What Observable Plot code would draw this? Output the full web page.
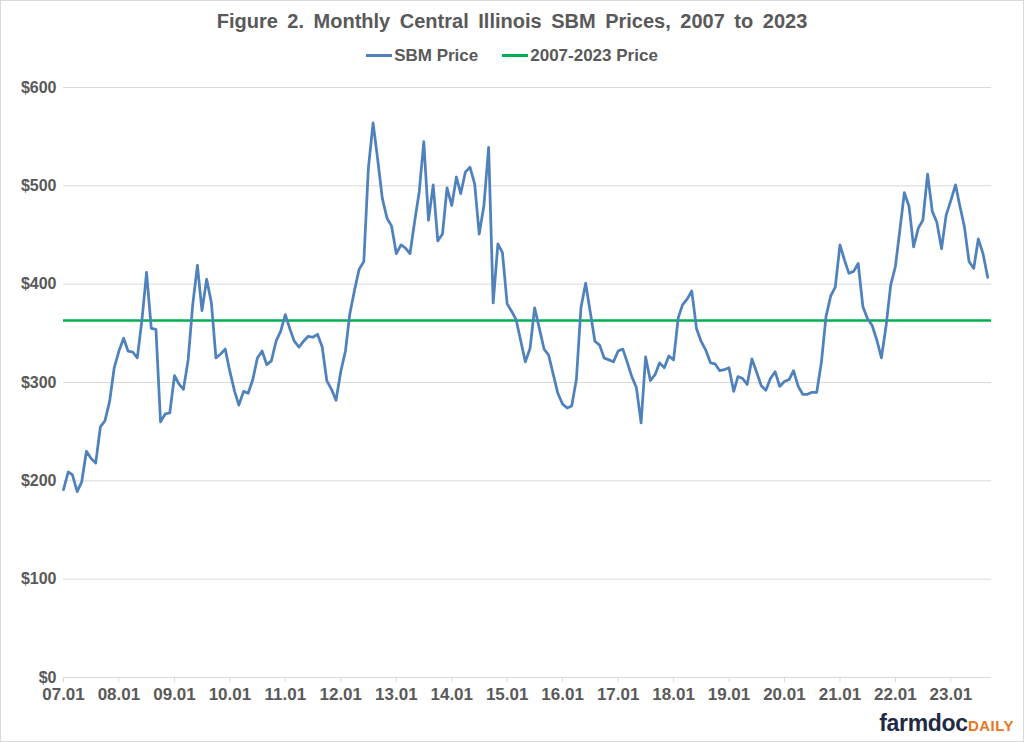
<!DOCTYPE html>
<html>
<head>
<meta charset="utf-8">
<script src="https://cdn.jsdelivr.net/npm/d3@7"></script>
<script src="https://cdn.jsdelivr.net/npm/@observablehq/plot@0.6"></script>
<style>
  html, body { margin: 0; padding: 0; background: #fff; }
  #wrap { position: relative; width: 1024px; height: 742px; box-sizing: border-box; border: 1px solid #d9d9d9; overflow: hidden;
    font-family: "Liberation Sans", Arial, sans-serif; }
  #title { position: absolute; left: 0; width: 1022px; top: 9px; text-align: center; font-size: 20px; font-weight: bold; color: #595959; word-spacing: 4px; }
  #legend { position: absolute; left: 0; width: 1022px; top: 45px; text-align: center; font-size: 17px; font-weight: bold; color: #595959; }
  #legend span.item { display: inline-block; margin: 0 12px; }
  #legend span.sw { display: inline-block; width: 26px; height: 3px; vertical-align: middle; margin-right: 2px; position: relative; top: -1px; }
  #chart { position: absolute; left: 0; top: 70px; }
  #logo { position: absolute; right: 9px; bottom: 4px; font-family: "Liberation Sans", Arial, sans-serif; font-weight: bold; }
  #logo .a { color: #1f2a44; font-size: 23px; letter-spacing: -0.3px; }
  #logo .b { color: #e87722; font-size: 15px; letter-spacing: 0.5px; }
</style>
</head>
<body>
<div id="wrap">
  <div id="title">Figure 2. Monthly Central Illinois SBM Prices, 2007 to 2023</div>
  <div id="legend"><span class="item"><span class="sw" style="background:#4f81bd"></span>SBM Price</span><span class="item"><span class="sw" style="background:#00b050"></span>2007-2023 Price</span></div>
  <div id="chart"></div>
  <div id="logo"><span class="a">farmdoc</span><span class="b">DAILY</span></div>
</div>
<script>
// Monthly SBM prices ($/ton), Jan 2007 .. Sep 2023
const startYear = 2007;
const sbmPrice = [
  191,209,206,189,199,230,223,218,255,261,281,315,
  332,345,332,331,325,364,412,355,354,260,268,269,
  307,298,293,323,379,419,373,405,381,325,329,334,
  311,291,277,291,289,303,325,332,318,322,342,352,
  369,354,342,336,342,347,346,349,336,302,293,282,
  311,332,370,394,415,423,518,564,526,487,467,459,
  431,440,437,431,463,494,545,465,501,444,451,498,
  480,509,492,514,519,502,451,480,539,381,441,432,
  380,372,364,342,321,335,376,355,334,328,308,289,
  278,274,276,303,376,401,372,342,338,325,323,321,
  332,334,321,306,295,259,326,302,308,320,315,327,
  323,366,379,385,393,355,342,333,320,319,312,313,
  315,291,306,304,298,324,311,297,292,304,311,296,
  301,303,312,296,288,288,290,290,321,367,388,397,
  440,424,411,413,421,377,365,358,343,325,358,399,
  418,457,493,479,438,457,465,512,474,463,436,470,
  485,501,480,458,423,416,446,431,407
];
const avgPrice = 363;
const yTicks = [0, 100, 200, 300, 400, 500, 600];

const data = sbmPrice.map((v, i) => ({date: new Date(Date.UTC(startYear, i, 1)), price: v}));

const chart = Plot.plot({
  width: 1022,
  height: 672,
  marginTop: 16,
  marginBottom: 66,
  marginLeft: 62,
  marginRight: 32,
  style: {fontFamily: '"Liberation Sans", Arial, sans-serif', fontSize: "16px", fontWeight: "bold", color: "#595959", background: "transparent"},
  x: {type: "utc", domain: [new Date(Date.UTC(2007, 0, 1)), new Date(Date.UTC(2023, 8, 26))]},
  y: {domain: [0, 600]},
  marks: [
    Plot.ruleY(yTicks, {stroke: "#d9d9d9", strokeWidth: 1}),
    Plot.axisY({ticks: yTicks, tickFormat: d => "$" + d, tickSize: 0, tickPadding: 7, label: null, fill: "#595959"}),
    Plot.axisX({ticks: d3.utcYear.every(1), tickFormat: d3.utcFormat("%y.%m"), tickSize: 5, tickPadding: 5, stroke: "#d9d9d9", fill: "#595959", fontSize: 17, label: null}),
    Plot.ruleY([avgPrice], {stroke: "#00b050", strokeWidth: 2.5}),
    Plot.line(data, {x: "date", y: "price", stroke: "#4f81bd", strokeWidth: 2.75, strokeLinejoin: "round"})
  ]
});
document.getElementById("chart").appendChild(chart);
</script>
</body>
</html>
